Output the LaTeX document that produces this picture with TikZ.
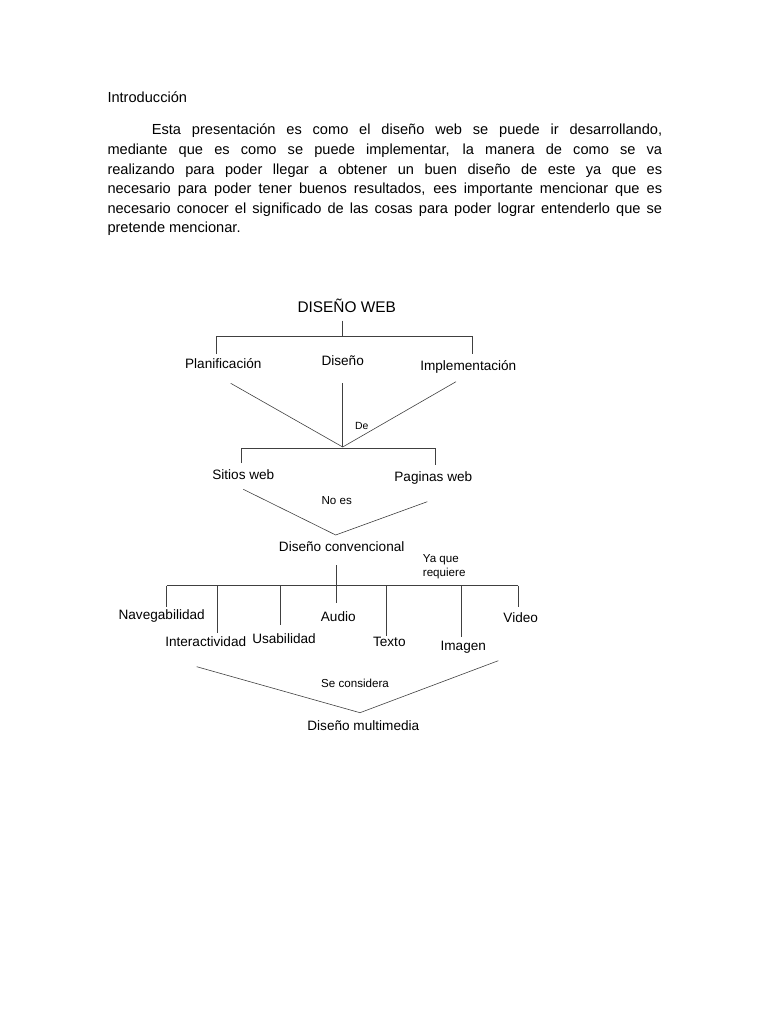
\documentclass[tikz,border=0pt]{standalone}
\usepackage{fontspec}
\setmainfont{Liberation Sans}
\usepackage{xcolor}
\usepackage{tikz}
\usetikzlibrary{positioning}

\begin{document}
\begin{tikzpicture}[x=1pt, y=-1pt,
    body/.style={anchor=base west, inner sep=0pt, font=\fontsize{14.6}{19.6}\selectfont},
    title/.style={anchor=base, inner sep=0pt, font=\fontsize{15.4}{18}\selectfont},
    term/.style={anchor=base, inner sep=0pt, font=\fontsize{13.6}{16}\selectfont},
    note/.style={anchor=base, inner sep=0pt, font=\fontsize{11.6}{14.5}\selectfont},
    link/.style={draw=black!75, line width=0.6pt}
]
\useasboundingbox (0,0) rectangle (768,1024);

% introduction text
\node[body] (intro) at (107.3,102.3) {Introducción};
\node[body] (par1) at (151.7,135) {\makebox[510.3pt][s]{Esta presentación es como el diseño web se puede ir desarrollando,}};
\node[body] (par2) at (107.3,154.6) {\makebox[554.7pt][s]{mediante que es como se puede implementar, la manera de como se va}};
\node[body] (par3) at (107.3,174.2) {\makebox[554.7pt][s]{realizando para poder llegar a obtener un buen diseño de este ya que es}};
\node[body] (par4) at (107.3,193.8) {\makebox[554.7pt][s]{necesario para poder tener buenos resultados, ees importante mencionar que es}};
\node[body] (par5) at (107.3,213.4) {\makebox[554.7pt][s]{necesario conocer el significado de las cosas para poder lograr entenderlo que se}};
\node[body] (par6) at (107.3,233) {pretende mencionar.};

% diagram labels
\node[title] (web) at (346.7,312.5) {DISEÑO WEB};
\node[term] (planif) at (223.3,368.5) {Planificación};
\node[term] (diseno) at (342.7,365.5) {Diseño};
\node[term] (implem) at (468.3,370) {Implementación};
\node[note, font=\fontsize{10.4}{12}\selectfont] (de) at (361.7,429) {De};
\node[term] (sitios) at (243.3,479.3) {Sitios web};
\node[term] (paginas) at (433.3,481.5) {Paginas web};
\node[note] (noes) at (336.7,504) {No es};
\node[term] (conv) at (341.7,551) {Diseño convencional};
\node[note, align=left, anchor=base west] (yaque) at (422.7,576.7) {Ya que\\requiere};
\node[term] (naveg) at (161.7,619.3) {Navegabilidad};
\node[term] (interac) at (205.7,646) {Interactividad};
\node[term] (usab) at (284,643.3) {Usabilidad};
\node[term] (audio) at (338.3,621.7) {Audio};
\node[term] (texto) at (389.3,646.7) {Texto};
\node[term] (imagen) at (463.3,650.7) {Imagen};
\node[term] (video) at (520.7,622.3) {Video};
\node[note] (secons) at (355,687.3) {Se considera};
\node[term] (multi) at (363.3,730) {Diseño multimedia};

% connector ends
\coordinate (webStem) at (342.7,320.7);
\coordinate (webBus) at (342.7,336.7);
\coordinate (planTop) at (216,354);
\coordinate (implTop) at (472.7,354);
\coordinate (planFoot) at (230.7,383.3);
\coordinate (disFoot) at (342.7,383.3);
\coordinate (implFoot) at (456,381.7);
\coordinate (deJoin) at (342.7,447);
\coordinate (busTwo) at (342.7,448.5);
\coordinate (sitiosTop) at (241,463);
\coordinate (pagTop) at (435,465);
\coordinate (sitiosFoot) at (243.3,489.3);
\coordinate (pagFoot) at (427.3,501.7);
\coordinate (noJoin) at (335.7,535);
\coordinate (convStem) at (336.7,565);
\coordinate (busFour) at (336.7,585.5);
\coordinate (mediaL) at (196.7,666.7);
\coordinate (mediaR) at (498.3,660.7);
\coordinate (seJoin) at (360,712.7);
\foreach \n/\x/\y in {nav/166.7/607.3, int/217.3/633.3, usa/280/625, aud/336.7/603.3,
                      tex/386.7/636, ima/461.7/636.7, vid/518.3/607.3}
    \coordinate (\n Top) at (\x,\y);

% tree lines
\draw[link] (webStem) -- (webBus);
\draw[link] (planTop) |- (webBus) -| (implTop);
\draw[link] (planFoot) -- (deJoin) -- (implFoot);
\draw[link] (disFoot) -- (deJoin);
\draw[link] (sitiosTop) -- (sitiosTop |- busTwo) -- (pagTop |- busTwo) -- (pagTop);
\draw[link] (sitiosFoot) -- (noJoin) -- (pagFoot);
\draw[link] (convStem) -- (audTop);
\draw[link] (navTop |- busFour) -- (vidTop |- busFour);
\foreach \n in {nav,int,usa,tex,ima,vid}
    \draw[link] (\n Top |- busFour) -- (\n Top);
\draw[link] (mediaL) -- (seJoin) -- (mediaR);
\end{tikzpicture}
\end{document}
